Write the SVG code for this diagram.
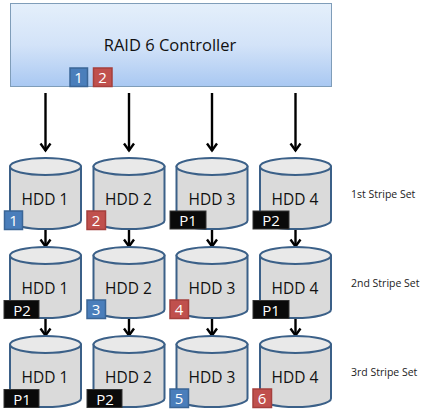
<svg xmlns="http://www.w3.org/2000/svg" width="425" height="411" viewBox="0 0 425 411">
<style>
text{font-family:"Open Sans","Noto Sans","Liberation Sans",sans-serif;text-anchor:middle}
.b{fill:#dadada;stroke:#3b6088;stroke-width:2}
.t{fill:#e9e9e9;stroke:#3b6088;stroke-width:2}
.l{font-size:15.5px;fill:#111}
.bt{font-size:15px;fill:#fff}
.s{font-size:10.5px;fill:#222;text-anchor:start}
.blue{fill:#4a7ebb;stroke:#3a6596;stroke-width:1.5}
.red{fill:#c0504d;stroke:#a53f3c;stroke-width:1.5}
.par{fill:#0a0a0a;stroke:#333;stroke-width:1}
.a{stroke:#000;stroke-width:2.4;fill:none;marker-end:url(#h)}
</style>
<defs>
<linearGradient id="g" x1="0" y1="0" x2="0" y2="1"><stop offset="0" stop-color="#e4effb"/><stop offset=".5" stop-color="#d3e3f8"/><stop offset="1" stop-color="#a9c8f2"/></linearGradient>
<marker id="h" markerUnits="userSpaceOnUse" markerWidth="14" markerHeight="14" refX="11" refY="7" orient="auto"><path d="M3.500 2 L10.500 7 L3.500 12" fill="none" stroke="#000" stroke-width="2.400"/></marker>
<path id="cb" d="M0 8.500V62.500C0 67 16 71 35.500 71S71 67 71 62.500V8.500Z"/>
<ellipse id="ct" cx="35.500" cy="8.500" rx="35.500" ry="8.500"/>
</defs>
<g id="connectors">
<path class="a" d="M45.500 93V151"/><path class="a" d="M129 93V151"/><path class="a" d="M212 93V151"/><path class="a" d="M295.500 93V151"/>
<path class="a" d="M45.500 229V247"/><path class="a" d="M129 229V247"/><path class="a" d="M212 229V247"/><path class="a" d="M295.500 229V247"/>
<path class="a" d="M45.500 318V336"/><path class="a" d="M129 318V336"/><path class="a" d="M212 318V336"/><path class="a" d="M295.500 318V336"/>
</g>
<g id="controller">
<rect x="10.500" y="3.500" width="321" height="83" fill="url(#g)" stroke="#7f9db9" stroke-width="1"/>
<text x="170" y="51" style="font-size:16.5px" fill="#111">RAID 6 Controller</text>
<rect class="blue" x="70" y="68" width="17.500" height="18.500"/><text class="bt" x="78.500" y="83">1</text>
<rect class="red" x="93.500" y="68" width="18.500" height="18.500"/><text class="bt" x="102.500" y="83">2</text>
</g>
<g id="r1d1"><use href="#cb" x="10" y="158" class="b"/><use href="#ct" x="10" y="158" class="t"/><text class="l" x="45" y="205">HDD 1</text><rect class="blue" x="4.500" y="211" width="18" height="18.500"/><text class="bt" x="13.500" y="226">1</text></g>
<g id="r1d2"><use href="#cb" x="93.500" y="158" class="b"/><use href="#ct" x="93.500" y="158" class="t"/><text class="l" x="128.500" y="205">HDD 2</text><rect class="red" x="87" y="211" width="18.500" height="18.500"/><text class="bt" x="96" y="226">2</text></g>
<g id="r1d3"><use href="#cb" x="176.500" y="158" class="b"/><use href="#ct" x="176.500" y="158" class="t"/><text class="l" x="212" y="205">HDD 3</text><rect class="par" x="170" y="211" width="36" height="18"/><text class="bt" x="188" y="226">P1</text></g>
<g id="r1d4"><use href="#cb" x="260" y="158" class="b"/><use href="#ct" x="260" y="158" class="t"/><text class="l" x="295" y="205">HDD 4</text><rect class="par" x="253" y="211" width="36" height="18"/><text class="bt" x="271" y="226">P2</text></g>
<g id="r2d1"><use href="#cb" x="10" y="247" class="b"/><use href="#ct" x="10" y="247" class="t"/><text class="l" x="45" y="294">HDD 1</text><rect class="par" x="4" y="300.500" width="35" height="18"/><text class="bt" x="22" y="315.500">P2</text></g>
<g id="r2d2"><use href="#cb" x="93.500" y="247" class="b"/><use href="#ct" x="93.500" y="247" class="t"/><text class="l" x="128.500" y="294">HDD 2</text><rect class="blue" x="87" y="300" width="18.500" height="18.500"/><text class="bt" x="96" y="315">3</text></g>
<g id="r2d3"><use href="#cb" x="176.500" y="247" class="b"/><use href="#ct" x="176.500" y="247" class="t"/><text class="l" x="212" y="294">HDD 3</text><rect class="red" x="170" y="300" width="18.500" height="18.500"/><text class="bt" x="179" y="315">4</text></g>
<g id="r2d4"><use href="#cb" x="260" y="247" class="b"/><use href="#ct" x="260" y="247" class="t"/><text class="l" x="295" y="294">HDD 4</text><rect class="par" x="253" y="300.500" width="36" height="18"/><text class="bt" x="271" y="315.500">P1</text></g>
<g id="r3d1"><use href="#cb" x="10" y="336" class="b"/><use href="#ct" x="10" y="336" class="t"/><text class="l" x="45" y="383">HDD 1</text><rect class="par" x="4" y="389.500" width="35" height="18"/><text class="bt" x="22" y="404.500">P1</text></g>
<g id="r3d2"><use href="#cb" x="93.500" y="336" class="b"/><use href="#ct" x="93.500" y="336" class="t"/><text class="l" x="128.500" y="383">HDD 2</text><rect class="par" x="87" y="389.500" width="35" height="18"/><text class="bt" x="105" y="404.500">P2</text></g>
<g id="r3d3"><use href="#cb" x="176.500" y="336" class="b"/><use href="#ct" x="176.500" y="336" class="t"/><text class="l" x="212" y="383">HDD 3</text><rect class="blue" x="170" y="389" width="18.500" height="18.500"/><text class="bt" x="179" y="404">5</text></g>
<g id="r3d4"><use href="#cb" x="260" y="336" class="b"/><use href="#ct" x="260" y="336" class="t"/><text class="l" x="295" y="383">HDD 4</text><rect class="red" x="253" y="389" width="18.500" height="18.500"/><text class="bt" x="262" y="404">6</text></g>
<g id="labels">
<text class="s" x="351" y="198">1st Stripe Set</text>
<text class="s" x="351" y="287">2nd Stripe Set</text>
<text class="s" x="351" y="376">3rd Stripe Set</text>
</g>
</svg>
